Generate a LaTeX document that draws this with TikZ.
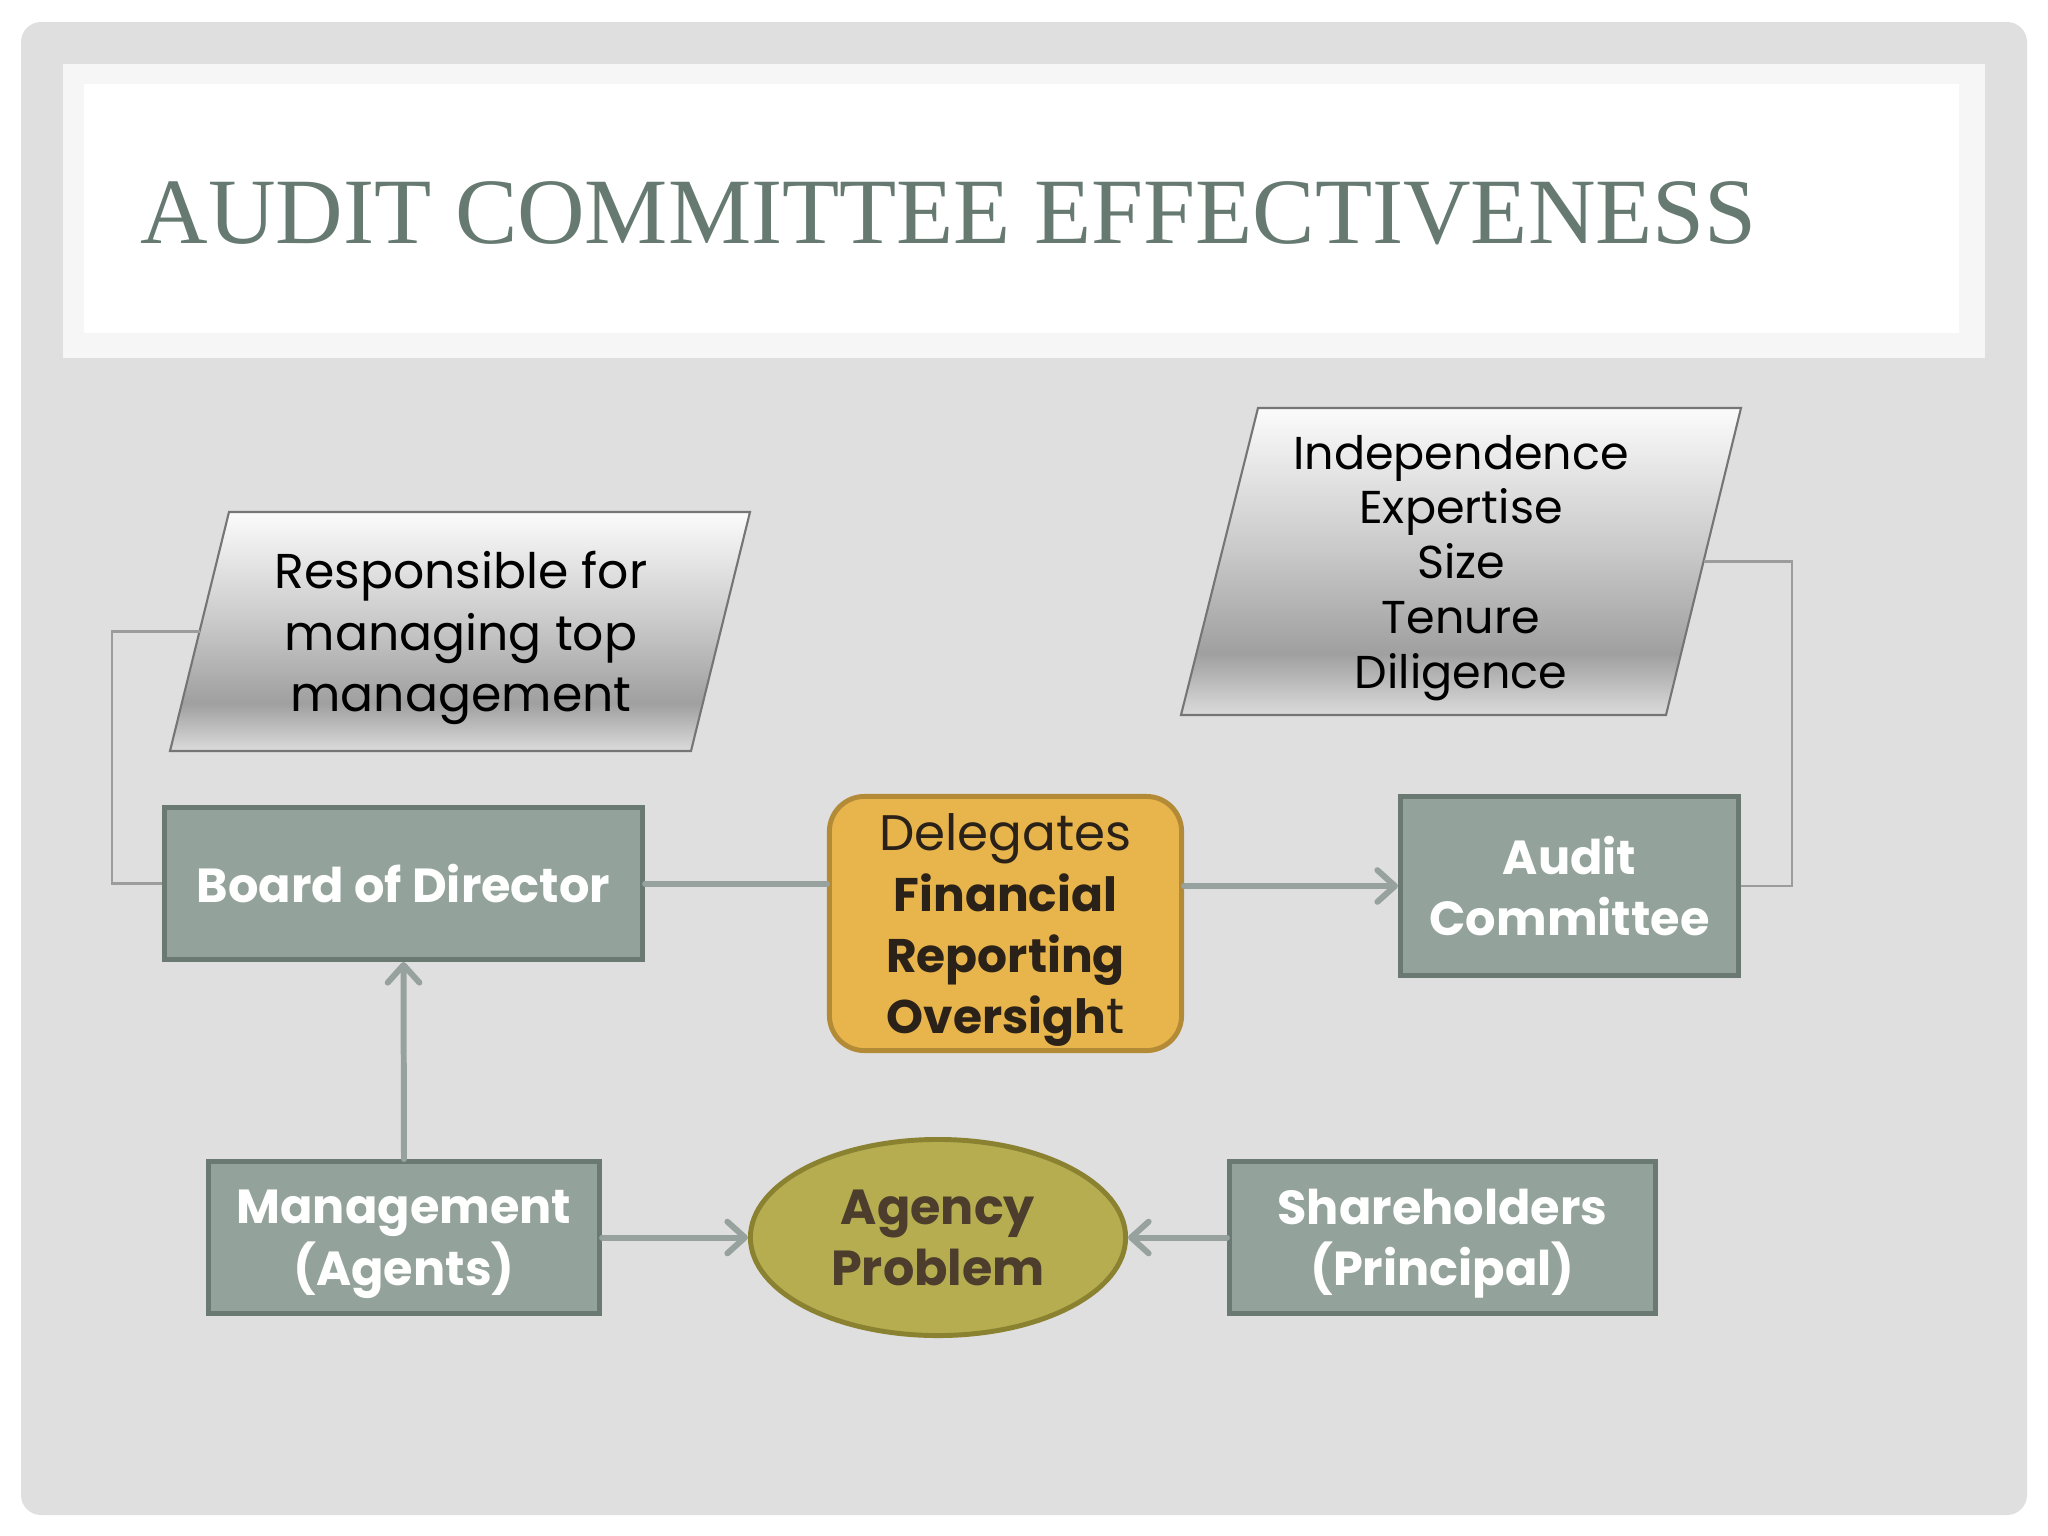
\documentclass[tikz,border=0pt]{standalone}
\usepackage{fontspec}
\setmainfont{Poppins}
\newfontfamily\titlefont{Liberation Serif}
\usetikzlibrary{arrows.meta,shapes.geometric}
\definecolor{slidebg}{HTML}{E0DFE0}
\definecolor{bandcol}{HTML}{F6F6F6}
\definecolor{boxfill}{HTML}{93A29A}
\definecolor{boxedge}{HTML}{6B7973}
\definecolor{linegray}{HTML}{97A29F}
\definecolor{thingray}{HTML}{9C9C9C}
\definecolor{paraedge}{HTML}{757575}
\definecolor{orangefill}{HTML}{E8B44C}
\definecolor{orangeedge}{HTML}{B38A36}
\definecolor{olivefill}{HTML}{B5AD50}
\definecolor{oliveedge}{HTML}{8A8230}
\definecolor{titlecol}{HTML}{667A72}
\definecolor{agencytext}{HTML}{4C3D2D}
\definecolor{darktext}{HTML}{2A2118}
\newcommand\dbf[1]{{\fontsize{13.4}{17.4}\selectfont\bfseries #1}}
\pgfdeclareverticalshading{metal}{100bp}{rgb(0bp)=(0.86,0.86,0.86); rgb(25bp)=(0.86,0.86,0.86); rgb(35bp)=(0.63,0.625,0.63); rgb(52bp)=(0.79,0.79,0.79); rgb(75bp)=(0.985,0.985,0.985); rgb(100bp)=(0.985,0.985,0.985)}
\begin{document}
\begin{tikzpicture}[x=0.01cm,y=-0.01cm,
  gbox/.style={draw=boxedge, fill=boxfill, line width=1.4pt, inner sep=0pt, align=center,
    text=white, text depth=0pt, font=\bfseries\fontsize{13.6}{17.5}\selectfont},
  ptext/.style={inner sep=0pt, align=center, text=black},
  conn/.style={draw=linegray, line width=1.7pt, line cap=round},
  arr/.style={conn, -{Straight Barb[length=5pt,width=9pt,round]}},
  thinconn/.style={draw=thingray, line width=0.6pt},
  para/.style={shading=metal, draw=paraedge, line width=0.6pt}
]
\useasboundingbox (0,0) rectangle (2048,1536);
\fill[white] (0,0) rectangle (2048,1536);
\fill[slidebg, rounded corners=0.2cm] (21,22) rectangle (2027,1515);
\fill[bandcol] (63,64) rectangle (1985,358);
\fill[white] (84,84) rectangle (1959,333);
\node[anchor=base west, inner sep=0pt, text=titlecol, font=\titlefont\fontsize{26.6}{30}\selectfont] (title) at (140,243) {AUDIT COMMITTEE EFFECTIVENESS};

% parallelograms
\shadedraw[para] (229,512) -- (750,512) -- (691,751) -- (170,751) -- cycle;
\coordinate (p1w) at (199.5,631.5);
\node[ptext, font=\fontsize{13.9}{17.6}\selectfont] (p1) at (461,638) {Responsible for\\managing top\\management};
\shadedraw[para] (1258,408) -- (1741,408) -- (1666,715) -- (1181,715) -- cycle;
\coordinate (p2e) at (1703.5,561.5);
\node[ptext, font=\fontsize{13.1}{15.6}\selectfont] (p2) at (1461,568) {Independence\\Expertise\\Size\\Tenure\\Diligence};

% boxes
\node[gbox, minimum width=4.78cm, minimum height=1.52cm] (board) at (403.5,883.5) {Board of Director};
\node[gbox, minimum width=3.38cm, minimum height=1.79cm] (audit) at (1569.5,886) {Audit\\Committee};
\node[draw=orangeedge, fill=orangefill, line width=1.4pt, rounded corners=0.35cm, inner sep=0pt,
  minimum width=3.52cm, minimum height=2.54cm, align=center, text=darktext, text depth=0pt,
  font=\fontsize{14.2}{17.4}\selectfont] (deleg) at (1005.5,923.5)
  {Delegates\\\dbf{Financial}\\\dbf{Reporting}\\\dbf{Oversigh}t};
\node[gbox, minimum width=3.91cm, minimum height=1.52cm] (mgmt) at (404,1237.5) {Management\\(Agents)};
\node[gbox, minimum width=4.26cm, minimum height=1.52cm] (share) at (1442.5,1237.5) {Shareholders\\(Principal)};
\node[ellipse, draw=oliveedge, fill=olivefill, line width=1.4pt, inner sep=0pt,
  minimum width=3.75cm, minimum height=1.96cm, align=center, text=agencytext, text depth=0pt,
  font=\bfseries\fontsize{14}{17.5}\selectfont] (agency) at (938,1237.5) {Agency\\Problem};

% connectors
\draw[conn] (board.east) -- (board.east -| deleg.west);
\draw[arr] (deleg.east |- audit.west) -- (audit.west);
\draw[arr] (mgmt.north) -- (board.south);
\draw[arr] (mgmt.east) -- (agency.west);
\draw[arr] (share.west) -- (agency.east);
\draw[thinconn] (p1w) -- ++(-87.5,0) |- (board.west);
\draw[thinconn] (p2e) -- ++(88.5,0) |- (audit.east);
\end{tikzpicture}
\end{document}
